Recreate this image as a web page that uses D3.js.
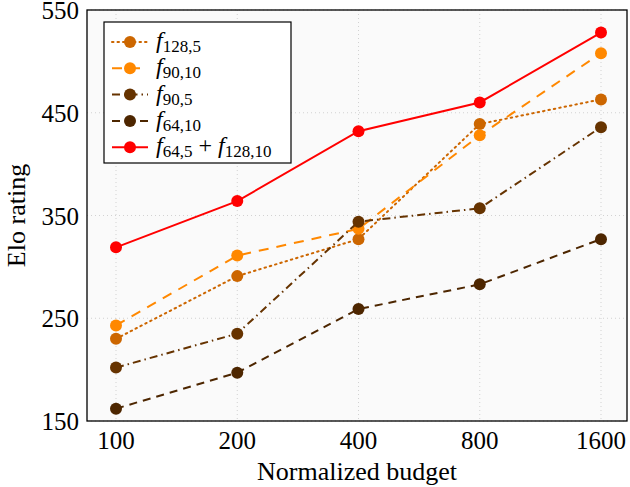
<!DOCTYPE html>
<html>
<head>
<meta charset="utf-8">
<script src="https://cdn.jsdelivr.net/npm/d3@7"></script>
<style>
  body { margin: 0; background: #fff; }
  text { font-family: "Liberation Serif", "DejaVu Serif", serif; fill: #000; }
</style>
</head>
<body>
<script>
const budgets = [100, 200, 400, 800, 1600];
const yTicks = [150, 250, 350, 450, 550];

const f128_5 = [230, 291, 327, 439, 463];
const f90_10 = [243, 311, 337, 428, 508];
const f90_5 = [202, 235, 344, 357, 436];
const f64_10 = [162, 197, 259, 283, 327];
const fCombo = [319, 364, 432, 460, 528];

const series = [
  { sub: "128,5", values: f128_5, color: "#cc6600", dash: "1.5,4" },
  { sub: "90,10", values: f90_10, color: "#ff8800", dash: "10,8" },
  { sub: "90,5", values: f90_5, color: "#663300", dash: "8,4,1.5,4" },
  { sub: "64,10", values: f64_10, color: "#4d2600", dash: "8,6" },
  { sub: "64,5", sub2: "128,10", values: fCombo, color: "#ff0000", dash: null }
];

const width = 630, height = 487;
const plot = { left: 87, right: 627, top: 10, bottom: 421 };

const svg = d3.select("body").append("svg")
    .attr("width", width)
    .attr("height", height);

const x = d3.scaleLog().base(2)
    .domain([100, 1600])
    .range([plot.left + 29, plot.right - 26]);

const y = d3.scaleLinear()
    .domain([150, 550])
    .range([plot.bottom, plot.top]);

// plot background
svg.append("rect")
    .attr("x", plot.left).attr("y", plot.top)
    .attr("width", plot.right - plot.left)
    .attr("height", plot.bottom - plot.top)
    .attr("fill", "#fafafa");

// grid
svg.append("g").selectAll("line")
    .data(budgets)
    .join("line")
    .attr("x1", d => x(d)).attr("x2", d => x(d))
    .attr("y1", plot.top).attr("y2", plot.bottom)
    .attr("stroke", "#c8c8c8").attr("stroke-width", 0.8)
    .attr("stroke-dasharray", "1,3");

svg.append("g").selectAll("line")
    .data(yTicks)
    .join("line")
    .attr("x1", plot.left).attr("x2", plot.right)
    .attr("y1", d => y(d)).attr("y2", d => y(d))
    .attr("stroke", "#c8c8c8").attr("stroke-width", 0.8)
    .attr("stroke-dasharray", "1,3");

// series
const line = d3.line()
    .x((d, i) => x(budgets[i]))
    .y(d => y(d));

series.forEach(s => {
  svg.append("path")
      .datum(s.values)
      .attr("d", line)
      .attr("fill", "none")
      .attr("stroke", s.color)
      .attr("stroke-width", 2)
      .attr("stroke-linecap", s.dash && s.dash.startsWith("1.5") ? "round" : "butt")
      .attr("stroke-dasharray", s.dash);

  svg.append("g").selectAll("circle")
      .data(s.values)
      .join("circle")
      .attr("cx", (d, i) => x(budgets[i]))
      .attr("cy", d => y(d))
      .attr("r", 6)
      .attr("fill", s.color);
});

// frame
svg.append("rect")
    .attr("x", plot.left).attr("y", plot.top)
    .attr("width", plot.right - plot.left)
    .attr("height", plot.bottom - plot.top)
    .attr("fill", "none")
    .attr("stroke", "#000").attr("stroke-width", 1.3);

// tick labels
svg.append("g").selectAll("text")
    .data(budgets)
    .join("text")
    .attr("x", d => x(d))
    .attr("y", 449)
    .attr("text-anchor", "middle")
    .style("font-size", "25px")
    .text(d => d);

svg.append("g").selectAll("text")
    .data(yTicks)
    .join("text")
    .attr("x", 79)
    .attr("y", d => y(d) + 9)
    .attr("text-anchor", "end")
    .style("font-size", "25px")
    .text(d => d);

// axis titles
svg.append("text")
    .attr("x", (plot.left + plot.right) / 2)
    .attr("y", 480)
    .attr("text-anchor", "middle")
    .style("font-size", "26px")
    .text("Normalized budget");

svg.append("text")
    .attr("transform", `translate(25, ${(plot.top + plot.bottom) / 2}) rotate(-90)`)
    .attr("text-anchor", "middle")
    .style("font-size", "26px")
    .text("Elo rating");

// legend
const legend = svg.append("g");
legend.append("rect")
    .attr("x", 104).attr("y", 22)
    .attr("width", 187).attr("height", 141)
    .attr("fill", "#fff")
    .attr("stroke", "#000").attr("stroke-width", 1.2);

const rows = legend.selectAll("g.row")
    .data(series)
    .join("g")
    .attr("class", "row")
    .attr("transform", (d, i) => `translate(0, ${42 + i * 26.3})`);

rows.append("line")
    .attr("x1", 112).attr("x2", 148)
    .attr("y1", 0).attr("y2", 0)
    .attr("stroke", d => d.color)
    .attr("stroke-width", 2)
    .attr("stroke-linecap", d => d.dash && d.dash.startsWith("1.5") ? "round" : "butt")
    .attr("stroke-dasharray", d => d.dash);

rows.append("circle")
    .attr("cx", 130).attr("cy", 0).attr("r", 6)
    .attr("fill", d => d.color);

const label = rows.append("text")
    .attr("x", 156).attr("y", 6)
    .style("font-size", "24px");

label.each(function(d) {
  const t = d3.select(this);
  t.append("tspan").style("font-style", "italic").text("f");
  t.append("tspan").attr("dy", 4).style("font-size", "17px").text(d.sub);
  if (d.sub2) {
    t.append("tspan").attr("dy", -4).text(" + ");
    t.append("tspan").style("font-style", "italic").text("f");
    t.append("tspan").attr("dy", 4).style("font-size", "17px").text(d.sub2);
  }
});
</script>
</body>
</html>
